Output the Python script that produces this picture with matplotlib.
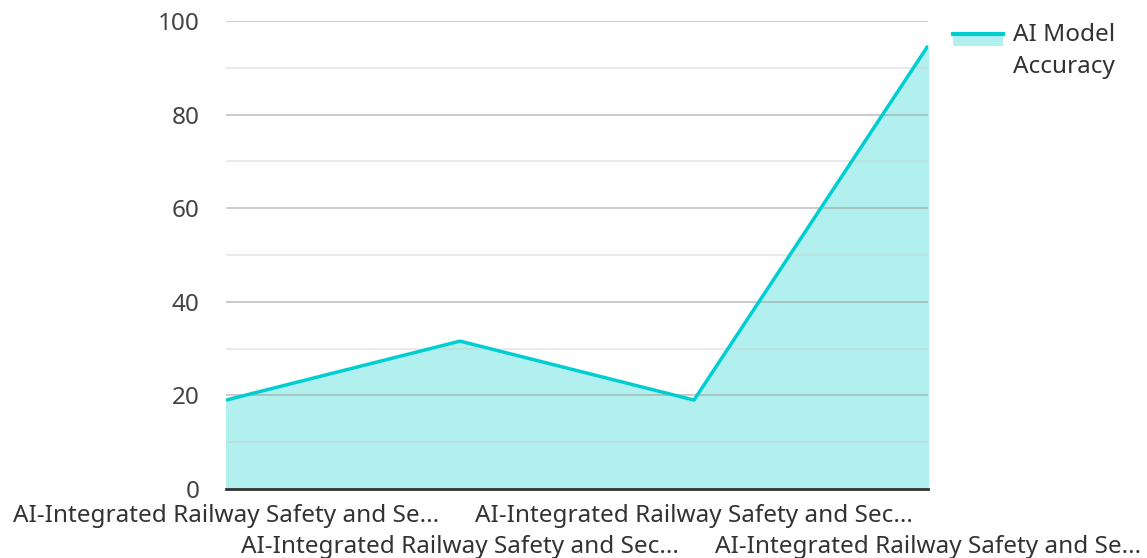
import matplotlib.pyplot as plt
from matplotlib.patches import Rectangle
from matplotlib.lines import Line2D

plt.rcParams['font.family'] = ['Noto Sans', 'DejaVu Sans']

# data
categories = ["AI-Integrated Railway Safety and Se...",
              "AI-Integrated Railway Safety and Sec...",
              "AI-Integrated Railway Safety and Sec...",
              "AI-Integrated Railway Safety and Se..."]
accuracy = [19.0, 31.6, 19.0, 94.7]
series_name = "AI Model\nAccuracy"

line_col = '#00CED1'
fill_col = '#B2EFEF'
fs = 17.5

fig = plt.figure(figsize=(11.47, 5.58), dpi=100)
ax = fig.add_axes([226/1147, 1-489/558, (928-226)/1147, (489-21)/558])

x = list(range(len(categories)))
ax.fill_between(x, accuracy, 0, color=fill_col, zorder=1)
ax.plot(x, accuracy, color=line_col, lw=2.5, zorder=3, solid_capstyle='butt')

# grid lines
for v in range(10, 101, 10):
    if v % 20 == 0:
        ax.axhline(v, color='#9a9a9a', lw=1.2, alpha=0.6, zorder=2)
    else:
        ax.axhline(v, color='#c8c8c8', lw=1.2, alpha=0.45, zorder=2)

ax.set_xlim(0, 3)
ax.set_ylim(0, 100)
ax.set_yticks(range(0, 101, 20))
ax.tick_params(axis='y', length=0, pad=19, labelsize=fs, labelcolor='#444444')
ax.set_xticks(x)
ax.set_xticklabels([])
ax.tick_params(axis='x', length=0)
for s in ['top', 'right', 'left']:
    ax.spines[s].set_visible(False)
ax.spines['bottom'].set_color('#333333')
ax.spines['bottom'].set_linewidth(2)
ax.spines['bottom'].set_zorder(4)

# staggered category labels
for i, lab in enumerate(categories):
    ypix = 516 if i % 2 == 0 else 547
    ax.text(i, 0, lab, transform=ax.get_xaxis_transform(), ha='center', va='center',
            fontsize=fs, color='#333333')
    ax.texts[-1].set_y(-(ypix - 489) / 468)

# legend
fig.patches.append(Rectangle((953/1147, 1-46/558), 50/1147, 12/558, transform=fig.transFigure,
                             facecolor=fill_col, edgecolor='none'))
fig.lines.append(Line2D([953/1147, 1003/1147], [1-33.5/558, 1-33.5/558], transform=fig.transFigure,
                        color=line_col, lw=3))
fig.text(1013/1147, 1-51/558, series_name, fontsize=fs, color='#333333',
         ha='left', va='center', linespacing=1.45)

fig.savefig('out.png', dpi=100)
